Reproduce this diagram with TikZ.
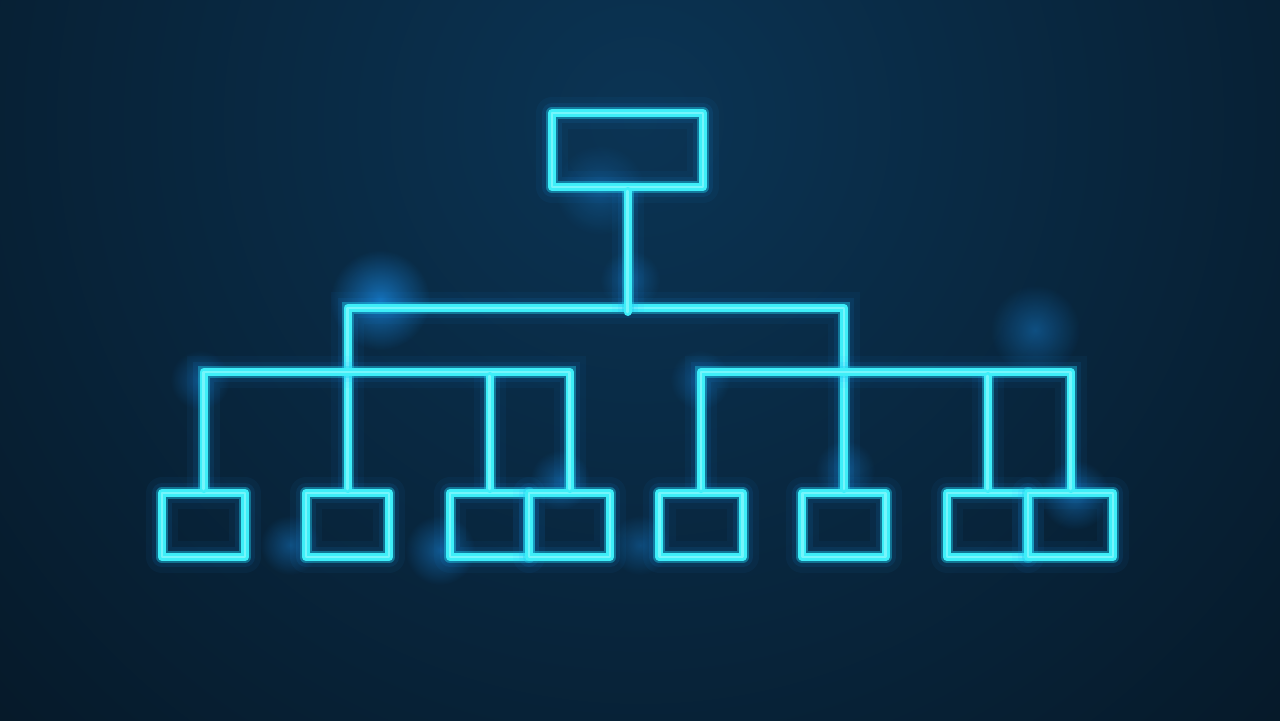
\documentclass[tikz,border=0pt]{standalone}
\usepackage{tikz}
\usetikzlibrary{fadings}

\definecolor{bgcenter}{HTML}{0B3454}
\definecolor{bgedge}{HTML}{02070C}
\definecolor{glowblue}{HTML}{1C9BFF}
\definecolor{neonedge}{HTML}{1FD2F0}
\definecolor{neoncore}{HTML}{3EEEF8}
\definecolor{neonwhite}{HTML}{B8FEFF}

\tikzfading[name=spotfade, inner color=transparent!0, outer color=transparent!100]

\begin{document}
\begin{tikzpicture}[x=0.01cm, y=-0.01cm]

\tikzstyle{glow} = [preaction={draw=glowblue, line width=0.32cm, opacity=0.05},
                    preaction={draw=glowblue, line width=0.20cm, opacity=0.09},
                    preaction={draw=neonedge, line width=0.12cm, opacity=0.40}]
\tikzstyle{wire} = [glow, draw=neoncore, line width=0.08cm, line cap=round, line join=round,
                    postaction={draw=neonwhite, line width=0.025cm, opacity=0.45}]
\tikzstyle{unit} = [wire, rectangle, minimum width=0.83cm, minimum height=0.64cm, inner sep=0pt]
\tikzstyle{head} = [unit, minimum width=1.51cm, minimum height=0.74cm]
\tikzstyle{spot} = [glowblue, path fading=spotfade]

%background
\useasboundingbox (0,0) rectangle (1280,720);
\fill[bgedge] (0,0) rectangle (1280,720);
\begin{scope}
\clip (0,0) rectangle (1280,720);
\shade[inner color=bgcenter, outer color=bgedge] (640,120) circle (1500);
\fill[spot, opacity=0.60] (380,300) circle (50);
\fill[spot, opacity=0.35] (1035,330) circle (45);
\fill[spot, opacity=0.40] (440,550) circle (35);
\fill[spot, opacity=0.35] (290,545) circle (30);
\fill[spot, opacity=0.35] (560,480) circle (30);
\fill[spot, opacity=0.40] (1075,495) circle (35);
\fill[spot, opacity=0.30] (640,545) circle (30);
\fill[spot, opacity=0.30] (700,380) circle (30);
\fill[spot, opacity=0.30] (200,380) circle (30);
\fill[spot, opacity=0.25] (600,190) circle (45);
\fill[spot, opacity=0.30] (630,280) circle (30);
\fill[spot, opacity=0.30] (845,470) circle (30);
\end{scope}

%boxes
\node [head] (top) at (627.5,150) {};
\node [unit] (b1) at (203.5,525) {};
\node [unit] (b2) at (347.5,525) {};
\node [unit, minimum width=0.79cm] (b3) at (489.5,525) {};
\node [unit, minimum width=0.81cm] (b4) at (569.5,525) {};
\node [unit] (b5) at (701,525) {};
\node [unit] (b6) at (844,525) {};
\node [unit, minimum width=0.81cm] (b7) at (987.5,525) {};
\node [unit, minimum width=0.85cm] (b8) at (1070.5,525) {};

\coordinate (hbar) at (0,312);
\coordinate (lbar) at (0,376);

%connectors
\path [wire] (b2.north) -- ++(0,-181) -| (b6.north);
\path [wire] (top.south) -- (top.south |- hbar);
\path [wire] (b1.north) -- ++(0,-117) -| (b4.north);
\path [wire] (b3.north) -- (b3.north |- lbar);
\path [wire] (b5.north) -- ++(0,-117) -| (b8.north);
\path [wire] (b7.north) -- (b7.north |- lbar);
\end{tikzpicture}
\end{document}
